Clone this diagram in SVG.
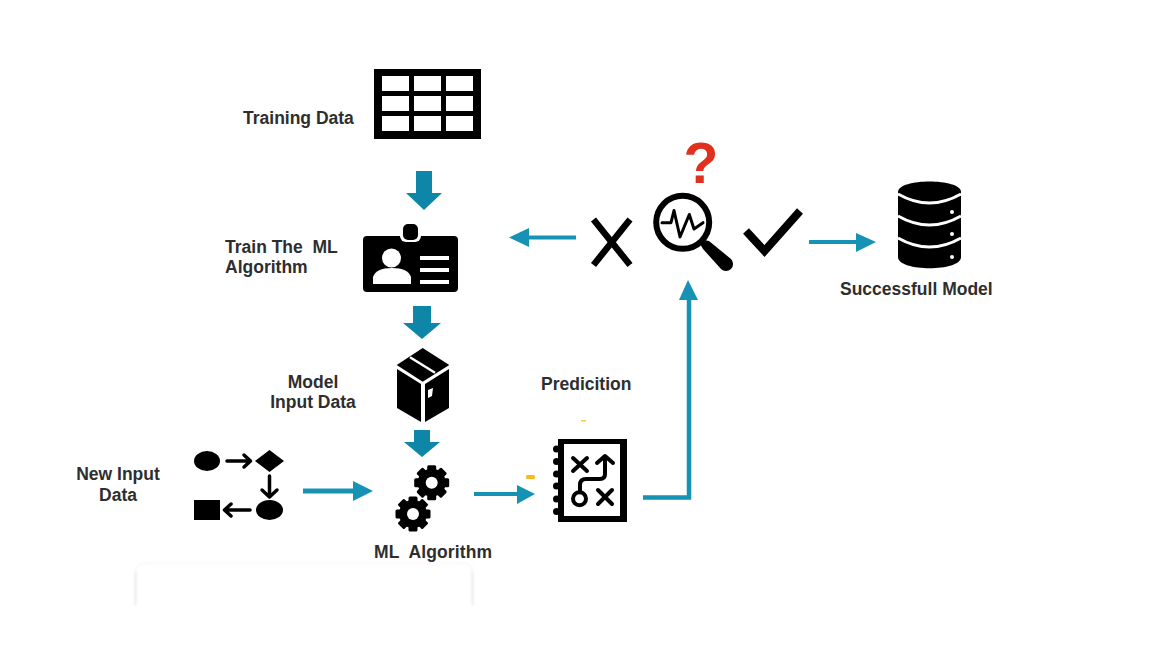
<svg xmlns="http://www.w3.org/2000/svg" width="1152" height="648" viewBox="0 0 1152 648">
<style>
.lbl{font-family:"Liberation Sans",Arial,sans-serif;font-weight:700;font-size:17.500px;fill:#2e2e2e;white-space:pre}
.k{fill:#000}
.w{fill:#fff}
.ko{fill:none;stroke:#000;stroke-linecap:round;stroke-linejoin:round}
.sh{fill:none;stroke:#1592b4}
.hd{fill:#1592b4}
.blk{fill:#0e86a8}
.wl{fill:none;stroke:#fff}
</style>
<defs>
<g id="gear">
<circle r="14" class="k"/>
<rect x="-4.500" y="-17.500" width="9" height="35" rx="1.500" class="k"/>
<rect x="-4.500" y="-17.500" width="9" height="35" rx="1.500" class="k" transform="rotate(45)"/>
<rect x="-4.500" y="-17.500" width="9" height="35" rx="1.500" class="k" transform="rotate(90)"/>
<rect x="-4.500" y="-17.500" width="9" height="35" rx="1.500" class="k" transform="rotate(135)"/>
<circle r="6" class="w"/>
</g>
<filter id="soft" filterUnits="userSpaceOnUse" x="120" y="550" width="370" height="60"><feGaussianBlur stdDeviation="1"/></filter>
</defs>
<rect width="1152" height="648" fill="#fff"/>

<g id="ghost-panel" filter="url(#soft)" fill="none">
<path d="M135.500 605V572" stroke="#ececec" stroke-width="2.500"/>
<path d="M472.500 605V572" stroke="#ececec" stroke-width="2.500"/>
<path d="M135.500 572Q135.500 563 145 563H463Q472.500 563 472.500 572" stroke="#f8f8f8" stroke-width="2"/>
</g>

<g id="connectors">
<path class="blk" d="M416 171H432V193H442L424 210L406 193H416Z"/>
<path class="blk" d="M413 306H431V323H441L422 339L403 323H413Z"/>
<path class="blk" d="M414 430H430V442H440L422 457L404 442H414Z"/>
<path class="sh" stroke-width="5" d="M303 491H355"/><path class="hd" d="M353 481L373 491L353 501Z"/>
<path class="sh" stroke-width="4" d="M474 494H519"/><path class="hd" d="M517 485L535 494L517 504Z"/>
<path class="sh" stroke-width="4.500" d="M643 497.500H689V298"/><path class="hd" d="M679 300L688 280L698 300Z"/>
<path class="sh" stroke-width="4" d="M576 237.500H527"/><path class="hd" d="M529 228L509 237.500L529 247Z"/>
<path class="sh" stroke-width="4" d="M809 242H858"/><path class="hd" d="M856 233L876 242L856 252Z"/>
</g>

<g id="training-data">
<rect class="k" x="374" y="69" width="107" height="70"/>
<g class="w">
<rect x="382" y="76" width="27" height="15"/><rect x="414" y="76" width="27" height="15"/><rect x="446" y="76" width="27" height="15"/>
<rect x="382" y="96" width="27" height="15"/><rect x="414" y="96" width="27" height="15"/><rect x="446" y="96" width="27" height="15"/>
<rect x="382" y="116" width="27" height="15"/><rect x="414" y="116" width="27" height="15"/><rect x="446" y="116" width="27" height="15"/>
</g>
<text class="lbl" x="243" y="124">Training Data</text>
</g>

<g id="train-algorithm">
<rect class="k" x="363" y="236" width="95" height="56" rx="4"/>
<rect class="w" x="400" y="228" width="21" height="14" rx="6"/>
<rect class="k" x="403" y="224" width="15" height="16" rx="5"/>
<circle class="w" cx="391.500" cy="258" r="9.500"/>
<path class="w" d="M373 284V277Q376 268 392 268Q408 268 411 277V284Z"/>
<rect class="w" x="420" y="256" width="29" height="4"/>
<rect class="w" x="420" y="268" width="29" height="4"/>
<rect class="w" x="420" y="280" width="29" height="4"/>
<text class="lbl" x="225" y="252.500">Train The  ML</text>
<text class="lbl" x="225" y="273">Algorithm</text>
</g>

<g id="model-input">
<path class="k" d="M422.700 348L449.300 365L422.700 381.700L396.700 365Z"/>
<path class="wl" stroke-width="2.500" d="M410 357.300L435 372.700"/>
<path class="k" d="M397 369L421 384V422L397 408Z"/>
<path class="k" d="M425 384L449 369V408L425 422Z"/>
<path class="w" d="M428 390L433 388L432 396L428 398Z"/>
<text class="lbl" x="313" y="388" text-anchor="middle">Model</text>
<text class="lbl" x="313" y="408" text-anchor="middle">Input Data</text>
</g>

<g id="new-input">
<ellipse class="k" cx="207" cy="461" rx="13" ry="10"/>
<path class="ko" stroke-width="3.500" d="M227 461H250M244 455L250.500 461L244 467"/>
<path class="k" d="M255 461L269.500 450L284 461L269.500 472Z"/>
<path class="ko" stroke-width="3.500" d="M269.500 476V496M262 490L269.500 497L277 490"/>
<ellipse class="k" cx="269.500" cy="510" rx="13.500" ry="10"/>
<path class="ko" stroke-width="3.500" d="M250 510H225M231 504L224.500 510L231 516"/>
<rect class="k" x="194" y="500" width="26" height="20"/>
<text class="lbl" x="118" y="480" text-anchor="middle">New Input</text>
<text class="lbl" x="118" y="501" text-anchor="middle">Data</text>
</g>

<g id="ml-algorithm">
<use href="#gear" x="431.700" y="482.700"/>
<use href="#gear" x="413" y="514"/>
<text class="lbl" x="374" y="558" textLength="118">ML  Algorithm</text>
</g>

<g id="prediction">
<rect class="k" x="558" y="439" width="69" height="83"/>
<rect class="w" x="564" y="444" width="56" height="72"/>
<g class="k">
<circle cx="556.500" cy="449" r="3.500"/><circle cx="556.500" cy="461.500" r="3.500"/><circle cx="556.500" cy="474" r="3.500"/><circle cx="556.500" cy="486" r="3.500"/><circle cx="556.500" cy="499" r="3.500"/><circle cx="556.500" cy="511.500" r="3.500"/>
</g>
<g class="ko" stroke-width="4">
<path d="M573 458L587 471M587 458L573 471"/>
<path d="M598 490L612 504M612 490L598 504"/>
<circle cx="579.500" cy="498.700" r="6.500"/>
<path d="M580 491V485Q580 479 586 479H600Q605 479 605 474V456M597 463L605 456L613 463"/>
</g>
<text class="lbl" x="541" y="390">Predicition</text>
<rect x="526" y="475" width="9" height="4" rx="1.500" fill="#fbb81c"/>
<rect x="581" y="420" width="5" height="1.500" fill="#fbc64a"/>
</g>

<g id="reject">
<path fill="none" stroke="#000" stroke-width="6.500" d="M593.500 219.500L630 265M630 219.500L593.500 265"/>
</g>

<g id="evaluate">
<circle cx="682.700" cy="222.300" r="26.500" fill="none" stroke="#000" stroke-width="6"/>
<path class="ko" stroke-width="3" d="M662 222.700H671L674 210.500L680 237L689.300 214.500L694 229L703 222.700"/>
<path class="k" d="M704 240L709 241L731 259A7 7 0 0 1 721 269L703 249L700 244Z"/>
<text x="701" y="183" font-family="'Liberation Sans',Arial,sans-serif" font-weight="700" font-size="57" fill="#e0301e" text-anchor="middle">?</text>
</g>

<g id="accept">
<path fill="none" stroke="#000" stroke-width="8" d="M746 231L764.500 251L800 211"/>
</g>

<g id="successful-model">
<path class="k" d="M898 192C898 178 961 178 961 192V257C961 272 898 272 898 257Z"/>
<path class="wl" stroke-width="3" d="M898 194Q929.500 212 961 194"/>
<path class="wl" stroke-width="3" d="M898 216Q929.500 234 961 216"/>
<path class="wl" stroke-width="3" d="M898 238Q929.500 256 961 238"/>
<circle class="w" cx="952" cy="212" r="2"/><circle class="w" cx="952" cy="234" r="2"/><circle class="w" cx="952" cy="257" r="2"/>
<text class="lbl" x="840" y="295">Successfull Model</text>
</g>
</svg>
